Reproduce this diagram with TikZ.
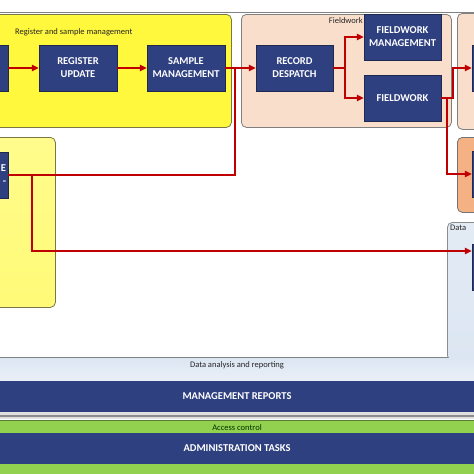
\documentclass[tikz,border=0pt]{standalone}
\usepackage{fontspec}
\setmainfont{Carlito}
\usetikzlibrary{arrows.meta}
\definecolor{navy}{RGB}{46,64,128}
\definecolor{navyedge}{RGB}{30,40,80}
\definecolor{arrred}{RGB}{192,0,0}
\definecolor{yelA}{RGB}{255,248,60}
\definecolor{yelB}{RGB}{255,252,140}
\definecolor{olive}{RGB}{120,120,70}
\definecolor{peach}{RGB}{250,222,204}
\definecolor{orangebox}{RGB}{244,177,131}
\definecolor{lightblue}{RGB}{220,230,242}
\definecolor{greenband}{RGB}{146,208,80}
\definecolor{grayline}{RGB}{130,130,130}
\tikzset{
  procbox/.style={fill=navy, draw=navyedge, line width=0.4pt, text=white,
    font=\bfseries\fontsize{10.5}{13}\selectfont, align=center, inner sep=0pt,
    minimum width=78pt, minimum height=46pt},
  group/.style={rounded corners=5pt, line width=0.8pt, inner sep=0pt},
  small/.style={font=\fontsize{8.5}{10}\selectfont, inner sep=0pt, text=black!85},
  band/.style={inner sep=0pt, minimum width=490pt, anchor=north},
  bandtext/.style={text=white, font=\bfseries\fontsize{10.5}{13}\selectfont},
  arr/.style={draw=arrred, line width=1.3pt, -{Triangle[length=7pt,width=6.5pt]}},
  ln/.style={draw=arrred, line width=1.3pt}
}
\begin{document}
\begin{tikzpicture}[x=1pt,y=-1pt]
\useasboundingbox (0,0) rectangle (474,474);
\clip (0,0) rectangle (474,474);
\fill[white] (0,0) rectangle (474,474);
% outer container
\node[draw=grayline, line width=0.9pt, fill=white, inner sep=0pt, minimum width=490pt, minimum height=345pt, anchor=north] (outer) at (237,12) {};
% groups
\node[group, draw=olive, fill=yelA, minimum width=251pt, minimum height=113pt, anchor=north west] (yellowtop) at (-20,14) {};
\node[small, anchor=west] (reglabel) at (15,32) {Register and sample management};
\node[group, draw=black!50, fill=peach, minimum width=210pt, minimum height=113pt, anchor=north west] (fieldgrp) at (241,14) {};
\node[small, anchor=east] (fieldlabel) at (363,21) {Fieldwork};
\node[group, draw=black!50, fill=peach, minimum width=40pt, minimum height=116pt, anchor=north west] (rightgrp1) at (457,13) {};
\node[group, draw=black!55, fill=orangebox, minimum width=40pt, minimum height=75pt, anchor=north west] (rightgrp2) at (457,137) {};
\node[group, draw=black!45, top color=lightblue!80!white, bottom color=lightblue, minimum width=50pt, minimum height=138pt, anchor=north west] (datagrp) at (447,222) {};
\node[small, anchor=west] (datalabel) at (450,228) {Data};
\node[group, draw=olive, top color=yelB, bottom color=yelA!70!white, minimum width=75pt, minimum height=170pt, anchor=north west] (yellowleft) at (-20,137) {};
% process boxes
\node[procbox] (left1) at (-31,68) {};
\node[procbox] (regupd) at (78,68) {REGISTER\\UPDATE};
\node[procbox] (sampmgmt) at (186,68) {SAMPLE\\MANAGEMENT};
\node[procbox, minimum width=77pt] (recdesp) at (294.5,68) {RECORD\\DESPATCH};
\node[procbox, minimum width=77pt] (fwmgmt) at (402.5,37) {FIELDWORK\\MANAGEMENT};
\node[procbox, minimum width=77pt] (fieldwork) at (402.5,98) {FIELDWORK};
\node[procbox] (right1) at (511,68) {};
\node[procbox] (right2) at (511,174) {};
\node[procbox] (right3) at (511,267.5) {};
\node[procbox, text width=74pt, align=right] (left2) at (-31,175) {E\\-};
% bottom bands
\node[band, top color=lightblue, bottom color=lightblue!60!white, minimum height=23pt] (databand) at (237,358) {};
\node[small] (datatext) at (237,365) {Data analysis and reporting};
\node[band, fill=navy, minimum height=31pt] (mgmtrep) at (237,381) {};
\node[bandtext] (mgmttext) at (237,396) {MANAGEMENT REPORTS};
\node[band, fill=black!12, minimum height=7pt] (sepband) at (237,412) {};
\draw[black!45, line width=1.2pt] (sepband.west |- 0,416) -- (sepband.east |- 0,416);
\node[band, fill=greenband, draw=black!40!greenband, line width=0.5pt, minimum height=13pt] (accband) at (237,419.5) {};
\node[small, text=black!80!green] (acctext) at (237,427.5) {Access control};
\node[band, fill=navy, minimum height=31pt] (adminband) at (237,433) {};
\node[bandtext] (admintext) at (237,448) {ADMINISTRATION TASKS};
\node[band, fill=greenband, minimum height=12pt] (greenbottom) at (237,464) {};
% connectors
\coordinate (b1) at (345,68);
\coordinate (b2) at (453,98);
\coordinate (b3) at (447,98);
\coordinate (j1) at (235,68);
\coordinate (j2) at (32,175);
\draw[arr] (left1.east) -- (regupd.west);
\draw[arr] (regupd.east) -- (sampmgmt.west);
\draw[arr] (sampmgmt.east) -- (recdesp.west);
\draw[arr] (recdesp.east) -- (b1) |- (fwmgmt.west);
\draw[arr] (b1) |- (fieldwork.west);
\draw[arr] (fieldwork.east) -- (b2) |- (right1.west);
\draw[arr] (b3) |- (right2.west);
\draw[ln] (left2.east) -| (j1);
\draw[arr] (j2) |- ([yshift=16.5pt]right3.west);
\end{tikzpicture}
\end{document}
